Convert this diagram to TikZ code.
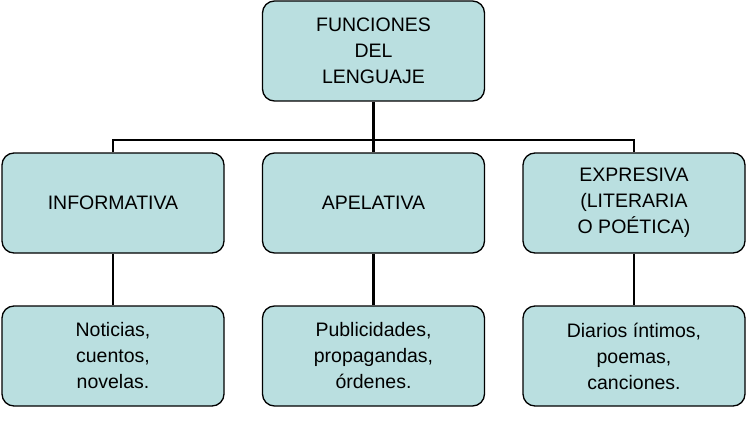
\documentclass[tikz,border=0pt]{standalone}
\usepackage{fontspec}
\setmainfont{Liberation Sans}
\begin{document}
\begin{tikzpicture}[x=1pt,y=-1pt,
  box/.style={draw=black,line width=1.3pt,fill=boxfill,rounded corners=12pt,minimum width=222pt,minimum height=100pt,align=center,font=\fontsize{19.5}{26}\selectfont},
  link/.style={line width=2.5pt}]
\definecolor{boxfill}{RGB}{186,223,224}
\useasboundingbox (0,0) rectangle (754,425);
\fill[white] (0,0) rectangle (754,425);
\node[box] (top) at (373.5,51) {FUNCIONES\\DEL\\LENGUAJE};
\node[box] (inf) at (113,203) {INFORMATIVA};
\node[box] (ape) at (373.5,203) {APELATIVA};
\node[box] (exp) at (634,203) {EXPRESIVA\\(LITERARIA\\O POÉTICA)};
\node[box] (ej1) at (113,356) {Noticias,\\cuentos,\\novelas.};
\node[box] (ej2) at (373.5,356) {Publicidades,\\propagandas,\\órdenes.};
\node[box] (ej3) at (634,356) {Diarios íntimos,\\poemas,\\canciones.};
\coordinate (bar) at (373.5,140);
\draw[link] (top.south) -- (bar);
\draw[link] (inf.north) -- (inf.north |- bar) -- (exp.north |- bar) -- (exp.north);
\draw[link] (bar) -- (ape.north);
\draw[link] (inf.south) -- (ej1.north);
\draw[link] (ape.south) -- (ej2.north);
\draw[link] (exp.south) -- (ej3.north);
\end{tikzpicture}
\end{document}
